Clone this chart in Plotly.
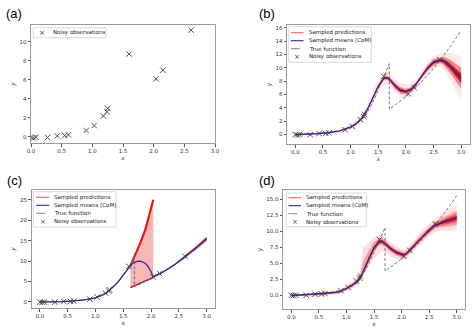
import plotly.graph_objects as go
import numpy as np

W, H = 474, 330

# ---------------- data ----------------
obs_x = [0.0, 0.04, 0.08, 0.27, 0.43, 0.55, 0.61, 0.90, 1.03, 1.18, 1.24, 1.25, 1.60, 2.04, 2.15, 2.61]
obs_y = [-0.05, -0.1, -0.03, -0.05, 0.12, 0.15, 0.22, 0.68, 1.2, 2.2, 2.65, 3.0, 8.7, 6.1, 7.0, 11.2]

true_x = [0, 0.2, 0.4, 0.6, 0.8, 0.9, 1.0, 1.1, 1.2, 1.3, 1.4, 1.5, 1.6, 1.7, 1.7, 1.8, 2.0, 2.2, 2.4, 2.6, 2.8, 3.0]
true_y = [0, 0.02, 0.1, 0.25, 0.5, 0.7, 1.0, 1.5, 2.2, 3.3, 4.8, 6.6, 8.6, 10.6, 3.77, 4.35, 5.66, 7.18, 8.92, 10.9, 13.12, 15.59]

# panel (b)
b_x = [0, 0.2, 0.4, 0.6, 0.8, 1.0, 1.1, 1.2, 1.3, 1.4, 1.5, 1.6, 1.65, 1.7, 1.8, 1.9, 2.0, 2.1, 2.2, 2.3, 2.4, 2.5, 2.6, 2.65, 2.7, 2.8, 2.9, 3.0]
b_mean = [-0.05, 0.0, 0.1, 0.25, 0.5, 1.1, 1.6, 2.4, 3.7, 5.4, 7.2, 8.4, 8.5, 8.3, 7.3, 6.6, 6.4, 6.8, 7.7, 8.9, 10.0, 10.8, 11.1, 11.1, 10.9, 10.2, 9.3, 8.4]
b_outer = [0.2, 0.2, 0.2, 0.25, 0.3, 0.4, 0.5, 0.7, 0.9, 1.0, 1.1, 1.0, 0.9, 0.9, 1.0, 1.1, 1.0, 0.9, 0.8, 0.8, 0.9, 1.0, 1.0, 1.1, 1.4, 2.0, 2.7, 3.3]
b_inner = [0.08, 0.08, 0.08, 0.08, 0.1, 0.12, 0.15, 0.18, 0.2, 0.25, 0.3, 0.3, 0.3, 0.35, 0.45, 0.5, 0.4, 0.3, 0.3, 0.35, 0.45, 0.5, 0.45, 0.5, 0.7, 1.0, 1.3, 1.6]

# panel (c)
c_x = [0, 0.2, 0.4, 0.6, 0.8, 1.0, 1.2, 1.4, 1.5, 1.6, 1.65, 1.7, 1.75, 1.8, 1.85, 1.9, 1.95, 2.0, 2.04, 2.2, 2.4, 2.6, 2.8, 3.0]
c_mean = [0, 0.02, 0.1, 0.25, 0.5, 1.0, 2.2, 4.8, 6.6, 8.6, 9.2, 9.7, 9.95, 10.0, 9.8, 9.4, 8.6, 7.4, 6.2, 7.2, 8.9, 10.9, 13.1, 15.5]
c_left_x = [0, 0.2, 0.4, 0.6, 0.8, 1.0, 1.2, 1.4, 1.5, 1.6, 1.63]
c_left_mean = [0, 0.02, 0.1, 0.25, 0.5, 1.0, 2.2, 4.8, 6.6, 8.6, 8.9]
c_left_hw = [0.1, 0.1, 0.1, 0.1, 0.1, 0.12, 0.15, 0.2, 0.25, 0.3, 0.3]
c_right_x = [2.04, 2.2, 2.4, 2.6, 2.8, 3.0]
c_right_mean = [6.1, 7.2, 8.9, 10.9, 13.1, 15.5]
c_right_hw = [0.15, 0.15, 0.2, 0.3, 0.4, 0.55]
fan_x = [1.63, 1.7, 1.8, 1.9, 2.0, 2.04]
fan_hi = [8.9, 11.0, 14.2, 17.8, 22.5, 25.0]
fan_lo = [3.5, 3.9, 4.6, 5.2, 5.75, 6.0]

# panel (d)
d_x = [0, 0.2, 0.4, 0.6, 0.8, 0.9, 1.0, 1.1, 1.2, 1.25, 1.3, 1.4, 1.5, 1.6, 1.65, 1.7, 1.8, 1.9, 2.0, 2.05, 2.1, 2.2, 2.3, 2.4, 2.5, 2.6, 2.7, 2.8, 2.9, 3.0]
d_mean = [-0.1, 0.0, 0.1, 0.2, 0.4, 0.6, 1.0, 1.5, 2.1, 2.7, 3.6, 5.6, 7.4, 8.4, 8.4, 8.1, 7.3, 6.7, 6.35, 6.3, 6.6, 7.5, 8.5, 9.4, 10.2, 10.9, 11.3, 11.6, 11.85, 12.1]
d_outer_hi = [0.2, 0.2, 0.25, 0.3, 0.35, 0.4, 0.5, 0.6, 0.7, 0.9, 3.8, 2.7, 1.6, 1.0, 0.9, 0.9, 1.0, 1.0, 0.9, 0.8, 0.8, 0.8, 0.9, 1.0, 1.0, 1.1, 1.3, 1.6, 1.8, 2.0]
d_outer_lo = [0.2, 0.2, 0.25, 0.3, 0.35, 0.4, 0.5, 0.6, 0.6, 0.6, 0.8, 1.2, 1.6, 1.8, 1.6, 1.4, 1.2, 1.0, 0.9, 0.8, 0.8, 0.8, 0.9, 1.0, 1.0, 1.0, 1.2, 1.5, 1.8, 2.0]
d_mid_hi = [0.1, 0.1, 0.12, 0.15, 0.18, 0.2, 0.22, 0.25, 0.3, 0.4, 1.6, 1.3, 0.9, 0.6, 0.5, 0.5, 0.5, 0.5, 0.45, 0.4, 0.4, 0.4, 0.45, 0.5, 0.5, 0.5, 0.6, 0.8, 1.0, 1.1]
d_inner = [0.1, 0.1, 0.12, 0.15, 0.18, 0.2, 0.22, 0.25, 0.3, 0.35, 0.6, 0.7, 0.6, 0.5, 0.5, 0.5, 0.5, 0.5, 0.45, 0.4, 0.4, 0.4, 0.45, 0.5, 0.5, 0.5, 0.6, 0.8, 1.0, 1.1]

x_ticks = [0.0, 0.5, 1.0, 1.5, 2.0, 2.5, 3.0]
a_yticks = [0, 2, 4, 6, 8, 10]
b_yticks = [0, 2, 4, 6, 8, 10, 12, 14, 16]
c_yticks = [0, 5, 10, 15, 20, 25]
d_yticks = [0.0, 2.5, 5.0, 7.5, 10.0, 12.5, 15.0]

# ---------------- styles ----------------
MEAN_C = "rgb(45,35,170)"
TRUE_C = "rgb(120,120,120)"
OBS_C = "rgb(60,60,60)"
FONT = "DejaVu Sans"

fig = go.Figure()


def band(x, lo, hi, color, xa, ya):
    x = list(x)
    fig.add_trace(go.Scatter(x=x + x[::-1], y=list(hi) + list(lo)[::-1], fill="toself",
                             fillcolor=color, line=dict(width=0), mode="lines",
                             hoverinfo="skip", showlegend=False, xaxis=xa, yaxis=ya))


def line(x, y, color, width, xa, ya, dash=None):
    fig.add_trace(go.Scatter(x=x, y=y, mode="lines", line=dict(color=color, width=width, dash=dash),
                             showlegend=False, xaxis=xa, yaxis=ya))


def obs(xa, ya):
    fig.add_trace(go.Scatter(x=obs_x, y=obs_y, mode="markers",
                             marker=dict(symbol="x-thin", size=5.5, line=dict(width=0.9, color=OBS_C)),
                             showlegend=False, xaxis=xa, yaxis=ya))


# (a)
obs("x", "y")

# (b)
bm = np.array(b_mean)
band(b_x, bm - np.array(b_outer), bm + np.array(b_outer), "rgba(255,40,40,0.11)", "x2", "y2")
band(b_x, bm - np.array(b_inner), bm + np.array(b_inner), "rgba(240,20,20,0.45)", "x2", "y2")
band(b_x, bm - 0.45 * np.array(b_inner), bm + 0.45 * np.array(b_inner), "rgba(190,0,0,0.8)", "x2", "y2")
line(true_x, true_y, TRUE_C, 1, "x2", "y2", dash="3px,2px")
line(b_x, b_mean, MEAN_C, 1.2, "x2", "y2")
obs("x2", "y2")

# (c)
cl = np.array(c_left_mean)
cr = np.array(c_right_mean)
band(c_left_x, cl - np.array(c_left_hw), cl + np.array(c_left_hw), "rgba(200,0,0,0.7)", "x3", "y3")
band(c_right_x, cr - np.array(c_right_hw), cr + np.array(c_right_hw), "rgba(200,0,0,0.7)", "x3", "y3")
band(fan_x, fan_lo, fan_hi, "rgba(240,110,110,0.5)", "x3", "y3")
line(fan_x, fan_hi, "rgba(235,10,10,0.95)", 2.2, "x3", "y3")
line(fan_x, fan_lo, "rgba(170,0,0,0.9)", 1.4, "x3", "y3")
line(true_x, true_y, TRUE_C, 1, "x3", "y3", dash="3px,2px")
line(c_x, c_mean, MEAN_C, 1.2, "x3", "y3")
obs("x3", "y3")

# (d)
dm = np.array(d_mean)
band(d_x, dm - np.array(d_outer_lo), dm + np.array(d_outer_hi), "rgba(255,40,40,0.15)", "x4", "y4")
band(d_x, dm - np.array(d_inner), dm + np.array(d_mid_hi), "rgba(245,30,30,0.35)", "x4", "y4")
band(d_x, dm - 0.6 * np.array(d_inner), dm + 0.6 * np.array(d_inner), "rgba(235,15,15,0.5)", "x4", "y4")
band(d_x, dm - 0.3 * np.array(d_inner), dm + 0.3 * np.array(d_inner), "rgba(190,0,0,0.75)", "x4", "y4")
line(true_x, true_y, TRUE_C, 1, "x4", "y4", dash="3px,2px")
line(d_x, d_mean, MEAN_C, 1.2, "x4", "y4")
obs("x4", "y4")


# ---------------- axes ----------------
def px(p):
    return p / W


def py(p):
    return 1 - p / H


def xaxis(dom, rng, anchor):
    return dict(domain=[px(dom[0]), px(dom[1])], range=rng, anchor=anchor,
                tickvals=x_ticks, tickformat=".1f", ticks="outside", ticklen=2.5, tickwidth=0.8,
                tickcolor="#555", showline=True, mirror=True, linecolor="#9a9a9a", linewidth=1,
                showgrid=False, zeroline=False, automargin=False,
                tickfont=dict(family=FONT, size=5.5, color="#333"),
                title=dict(text="<i>x</i>", font=dict(family=FONT, size=6, color="#333"), standoff=1))


def yaxis(dom, rng, anchor, ticks, fmt):
    return dict(domain=[py(dom[1]), py(dom[0])], range=rng, anchor=anchor,
                tickvals=ticks, tickformat=fmt, ticks="outside", ticklen=2.5, tickwidth=0.8,
                tickcolor="#555", showline=True, mirror=True, linecolor="#9a9a9a", linewidth=1,
                showgrid=False, zeroline=False, automargin=False,
                tickfont=dict(family=FONT, size=5.5, color="#333"),
                title=dict(text="<i>y</i>", font=dict(family=FONT, size=6, color="#333"), standoff=3))


fig.update_layout(
    width=W, height=H, margin=dict(l=0, r=0, t=0, b=0),
    paper_bgcolor="white", plot_bgcolor="white", showlegend=False,
    xaxis=xaxis((31, 215), [0, 3.0], "y"),
    yaxis=yaxis((25, 143), [-0.63, 11.74], "x", a_yticks, "d"),
    xaxis2=xaxis((287, 469.5), [-0.15, 3.15], "y2"),
    yaxis2=yaxis((25, 144), [-1.45, 16.4], "x2", b_yticks, "d"),
    xaxis3=xaxis((31.5, 215), [-0.15, 3.15], "y3"),
    yaxis3=yaxis((190, 308), [-1.47, 27.4], "x3", c_yticks, "d"),
    xaxis4=xaxis((283, 465), [-0.15, 3.15], "y4"),
    yaxis4=yaxis((190, 309), [-2.2, 16.5], "x4", d_yticks, ".1f"),
)

# ---------------- panel labels ----------------
for lab, (lx, ly) in {"(a)": (14, 13), "(b)": (266.5, 13), "(c)": (14, 180), "(d)": (266.5, 180)}.items():
    fig.add_annotation(text=lab, x=px(lx), y=py(ly), xref="paper", yref="paper", showarrow=False,
                       xanchor="center", yanchor="middle",
                       font=dict(family="Liberation Sans", size=13, color="black"))

# ---------------- legends (drawn manually to match matplotlib compact style) ----------------
LEG_ITEMS = [("Sampled predictions", "pred"), ("Sampled means (CoM)", "mean"),
             ("True function", "true"), ("Noisy observations", "obs")]


def legend(box, rows, hx, tx, items):
    x0, y0, x1, y1 = box
    fig.add_shape(type="rect", xref="paper", yref="paper", x0=px(x0), x1=px(x1), y0=py(y1), y1=py(y0),
                  fillcolor="rgba(255,255,255,0.85)", line=dict(color="#d0d0d0", width=0.8), layer="above")
    for (label, kind), ry in zip(items, rows):
        if kind == "obs":
            fig.add_annotation(text="×", x=px((hx[0] + hx[1]) / 2), y=py(ry), xref="paper", yref="paper",
                               showarrow=False, xanchor="center", yanchor="middle",
                               font=dict(family=FONT, size=7, color=OBS_C))
        else:
            col, wd, dash = {"pred": ("rgba(240,60,60,0.8)", 1.1, "solid"),
                             "mean": (MEAN_C, 1.1, "solid"),
                             "true": (TRUE_C, 0.9, "dash")}[kind]
            fig.add_shape(type="line", xref="paper", yref="paper", x0=px(hx[0]), x1=px(hx[1]),
                          y0=py(ry), y1=py(ry), line=dict(color=col, width=wd, dash=dash), layer="above")
        fig.add_annotation(text=label, x=px(tx), y=py(ry), xref="paper", yref="paper", showarrow=False,
                           xanchor="left", yanchor="middle",
                           font=dict(family=FONT, size=5.5, color="#222"))


legend((33.3, 27.7, 106, 37.7), [32.7], (37, 46), 51, [LEG_ITEMS[3]])
legend((288.7, 26.7, 371.3, 62.3), [32.7, 40.7, 48.7, 56.7], (290.8, 303.5), 307, LEG_ITEMS)
legend((33.3, 191.7, 116, 227), [197.3, 205.3, 213.3, 221.7], (36.3, 49.3), 51.7, LEG_ITEMS)
legend((286.3, 193, 366.3, 226.7), [197.7, 205.7, 213.7, 222], (288.5, 301), 303.7, LEG_ITEMS)

fig.write_html("out.html")
